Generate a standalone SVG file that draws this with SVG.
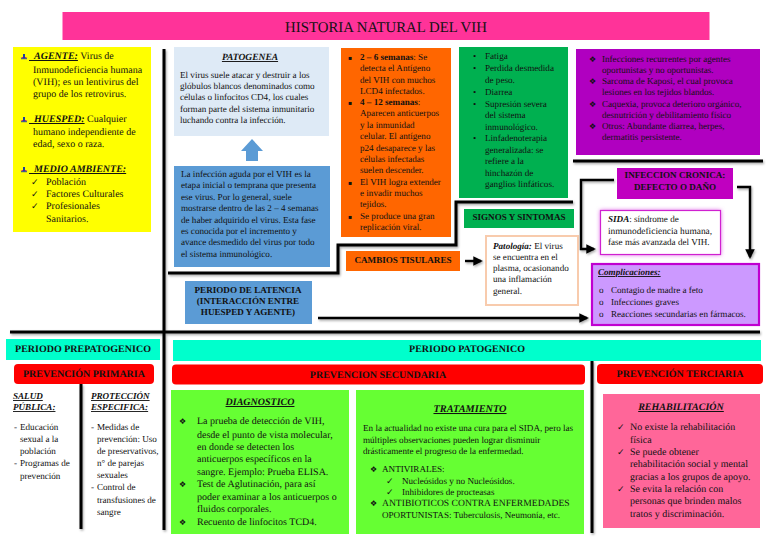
<svg xmlns="http://www.w3.org/2000/svg" xmlns:xlink="http://www.w3.org/1999/xlink" width="768" height="543" viewBox="0 0 768 543">
<style>
text{font-family:"Liberation Serif","Times New Roman",serif;font-size:10px;fill:#111;text-rendering:geometricPrecision}
.s text{font-size:9.1px}
.h{font-weight:bold;text-anchor:middle}
.s text.h,.h9{font-size:9.1px}
text.h10{font-size:10px}
.u{font-weight:bold;font-style:italic;text-decoration:underline}
.ic,.s text.ic{font-family:"DejaVu Sans",sans-serif;font-size:8px}
text.ck,.s text.ck{font-family:"DejaVu Sans",sans-serif;font-size:9px}
.s text.sq{font-family:"DejaVu Sans",sans-serif;font-size:6px}
.ln{fill:none;stroke:#000;stroke-width:3}
.ar{fill:none;stroke:#000;stroke-width:2.4}
.r{fill:#f00}
.t{fill:#0fc}
</style>
<defs>
<marker id="ah" viewBox="0 0 10 10" refX="8" refY="5" markerWidth="4" markerHeight="4" orient="auto"><path d="M0 0L10 5L0 10Z" fill="#000"/></marker>
<filter id="sh" x="-5%" y="-5%" width="110%" height="110%"><feDropShadow dx="1" dy="1.5" stdDeviation="1" flood-color="#000" flood-opacity=".35"/></filter>
<filter id="gl" x="-10%" y="-15%" width="120%" height="130%"><feGaussianBlur stdDeviation="2"/></filter>
<g id="bl"><path d="M-3.5 0H3.5L0 1.8Z" fill="#c02070"/><path d="M-1 -3H1V1H-1Z" fill="#2040a0"/><path d="M-3 1.2H3V2.2H-3Z" fill="#2040a0"/></g>
</defs>
<g id="title"><rect x="62.5" y="12" width="647" height="28" fill="#ff3399"/><text x="386" y="32" text-anchor="middle" style="font-size:14.800px">HISTORIA NATURAL DEL VIH</text></g>

<g id="triada"><rect x="13" y="47" width="138" height="185" fill="#ff0"/>
<use xlink:href="#bl" x="24" y="57"/><use xlink:href="#bl" x="24" y="120"/><use xlink:href="#bl" x="24" y="170"/>
<text x="29" y="59"><tspan class="u">&#160;&#160;AGENTE:</tspan> Virus de</text>
<text x="33" y="73">Inmunodeficiencia humana</text><text x="33" y="85">(VIH); es un lentivirus del</text><text x="33" y="97">grupo de los retrovirus.</text>
<text x="29" y="122"><tspan class="u">&#160;&#160;HUESPED:</tspan> Cualquier</text>
<text x="33" y="135">humano independiente de</text><text x="33" y="147">edad, sexo o raza.</text>
<text x="29" y="172" class="u">&#160;&#160;MEDIO AMBIENTE:</text>
<text x="31" y="185" class="ck">✓</text><text x="46" y="185">Población</text>
<text x="31" y="197" class="ck">✓</text><text x="46" y="197">Factores Culturales</text>
<text x="31" y="209" class="ck">✓</text><text x="46" y="209">Profesionales</text><text x="46" y="222">Sanitarios.</text></g>

<g id="patogenea" class="s"><rect x="174" y="47" width="155" height="89" fill="#deeaf6"/>
<text x="250" y="60" text-anchor="middle" class="u" style="font-size:9.500px">PATOGENEA</text>
<text x="180" y="78">El virus suele atacar y destruir a los</text><text x="180" y="89">glóbulos blancos denominados como</text><text x="180" y="100">células o linfocitos CD4, los cuales</text><text x="180" y="112">forman parte del sistema inmunitario</text><text x="180" y="123">luchando contra la infección.</text></g>
<g id="flecha-arriba"><path d="M252 139L263 151H258V161H246V151H241Z" fill="#5b9bd5"/></g>
<g id="infeccion-aguda" class="s"><rect x="174" y="166" width="156" height="101" fill="#5b9bd5"/>
<text x="181" y="177">La infección aguda por el VIH es la</text><text x="181" y="188">etapa inicial o temprana que presenta</text><text x="181" y="200">ese virus. Por lo general, suele</text><text x="181" y="211">mostrarse dentro de las 2 – 4 semanas</text><text x="181" y="223">de haber adquirido el virus. Esta fase</text><text x="181" y="234">es conocida por el incremento y</text><text x="181" y="245">avance desmedido del virus por todo</text><text x="181" y="257">el sistema inmunológico.</text></g>

<g id="semanas" class="s"><rect x="341" y="48" width="110" height="189" fill="#f60"/>
<text x="348" y="60" class="sq">▪</text><text x="348" y="105" class="sq">▪</text><text x="348" y="185" class="sq">▪</text><text x="348" y="219" class="sq">▪</text>
<text x="360" y="60"><tspan font-weight="bold">2 – 6 semanas</tspan>: Se</text><text x="360" y="71">detecta el Antígeno</text><text x="360" y="83">del VIH con muchos</text><text x="360" y="94">LCD4 infectados.</text>
<text x="360" y="105"><tspan font-weight="bold">4 – 12 semanas</tspan>:</text><text x="360" y="116">Aparecen anticuerpos</text><text x="360" y="128">y la inmunidad</text><text x="360" y="139">celular. El antígeno</text><text x="360" y="151">p24 desaparece y las</text><text x="360" y="162">células infectadas</text><text x="360" y="173">suelen descender.</text>
<text x="360" y="185">El VIH logra extender</text><text x="360" y="196">e invadir muchos</text><text x="360" y="207">tejidos.</text><text x="360" y="219">Se produce una gran</text><text x="360" y="230">replicación viral.</text></g>

<g id="sintomas" class="s"><rect x="459" y="47" width="109" height="151" fill="#00b050"/>
<text x="473" y="59">•</text><text x="473" y="71">•</text><text x="473" y="95">•</text><text x="473" y="107">•</text><text x="473" y="141">•</text>
<text x="485" y="59">Fatiga</text><text x="485" y="71">Perdida desmedida</text><text x="485" y="83">de peso.</text><text x="485" y="95">Diarrea</text><text x="485" y="107">Supresión severa</text><text x="485" y="118">del sistema</text><text x="485" y="130">inmunológico.</text><text x="485" y="141">Linfadenoterapia</text><text x="485" y="153">generalizada: se</text><text x="485" y="164">refiere a la</text><text x="485" y="176">hinchazón de</text><text x="485" y="187">ganglios linfáticos.</text></g>

<g id="infecciones" class="s"><rect x="576" y="49" width="184" height="106" fill="#b000c0"/>
<text x="589" y="62" class="ic">❖</text><text x="589" y="84" class="ic">❖</text><text x="589" y="107" class="ic">❖</text><text x="589" y="129" class="ic">❖</text>
<text x="602" y="62">Infecciones recurrentes por agentes</text><text x="602" y="73">oportunistas y no oportunistas.</text><text x="602" y="84">Sarcoma de Kaposi, el cual provoca</text><text x="602" y="95">lesiones en los tejidos blandos.</text><text x="602" y="107">Caquexia, provoca deterioro orgánico,</text><text x="602" y="118">desnutrición y debilitamiento físico</text><text x="602" y="129">Otros: Abundante diarrea, herpes,</text><text x="602" y="140">dermatitis persistente.</text></g>

<g id="cronica" class="s"><rect x="617" y="168" width="116" height="31" fill="#c000c0"/><text x="675" y="178" class="h">INFECCION CRONICA:</text><text x="675" y="190" class="h">DEFECTO O DAÑO</text></g>
<g id="signos" class="s"><rect x="464" y="209" width="110" height="19" fill="#00b050"/><text x="519" y="220" class="h">SIGNOS Y SINTOMAS</text></g>
<g id="sida" class="s"><rect x="600" y="210" width="121" height="45" fill="#e070e8" filter="url(#gl)"/><rect x="600.5" y="210.5" width="120" height="44" fill="#fff" stroke="#d020d0" stroke-width="1.2"/>
<text x="608" y="222"><tspan font-style="italic" font-weight="bold">SIDA</tspan>: síndrome de</text><text x="608" y="234" style="font-size:9.400px">inmunodeficiencia humana,</text><text x="608" y="245">fase más avanzada del VIH.</text></g>
<g id="patologia" class="s"><rect x="486" y="236" width="92" height="69" fill="#fff" stroke="#f8cbad" stroke-width="2"/>
<text x="493" y="249"><tspan font-style="italic" font-weight="bold">Patología:</tspan> El virus</text><text x="493" y="260">se encuentra en el</text><text x="493" y="271">plasma, ocasionando</text><text x="493" y="282">una inflamación</text><text x="493" y="294">general.</text></g>
<g id="cambios" class="s"><rect x="346" y="251" width="114" height="20" fill="#f60"/><text x="403" y="263" class="h">CAMBIOS TISULARES</text></g>
<g id="latencia" class="s"><rect x="185" y="281" width="127" height="43" fill="#5b9bd5"/><text x="248" y="293" class="h">PERIODO DE LATENCIA</text><text x="248" y="304" class="h">(INTERACCIÓN ENTRE</text><text x="248" y="315" class="h">HUESPED Y AGENTE)</text></g>
<g id="complicaciones" class="s"><rect x="592" y="264" width="167" height="61" fill="#c9f" stroke="#c000d0" stroke-width="2.2"/>
<text x="598" y="275" class="u">Complicaciones:</text>
<text x="599" y="293">o</text><text x="599" y="305">o</text><text x="599" y="317">o</text>
<text x="611" y="293">Contagio de madre a feto</text><text x="611" y="305">Infecciones graves</text><text x="611" y="317">Reacciones secundarias en fármacos.</text></g>

<g id="periodo-prepatogenico"><rect x="6" y="339" width="154" height="21" class="t"/><text x="83" y="352" class="h h10">PERIODO PREPATOGENICO</text></g>
<g id="periodo-patogenico"><rect x="173" y="340" width="588" height="21" class="t"/><text x="467" y="352" class="h h10">PERIODO PATOGENICO</text></g>
<g id="prev-primaria"><rect x="14" y="364" width="140" height="20" rx="4" class="r"/><text x="84" y="377" class="h h10">PREVENCIÓN PRIMARIA</text></g>
<g id="prev-secundaria"><rect x="172" y="364.500" width="413" height="20" rx="4" class="r"/><text x="378" y="378" class="h h10">PREVENCION SECUNDARIA</text></g>
<g id="prev-terciaria"><rect x="597" y="364" width="166" height="20" rx="4" class="r"/><text x="680" y="377" class="h h10">PREVENCIÓN TERCIARIA</text></g>

<g id="salud-publica" class="s"><text x="13" y="399" class="u">SALUD</text><text x="13" y="410" class="u">PÚBLICA:</text>
<text x="14" y="430">-</text><text x="14" y="466">-</text>
<text x="20" y="430">Educación</text><text x="20" y="442">sexual a la</text><text x="20" y="454">población</text><text x="20" y="466">Programas de</text><text x="20" y="479">prevención</text></g>
<g id="proteccion" class="s"><text x="91" y="399" class="u">PROTECCIÓN</text><text x="91" y="410" class="u">ESPECIFICA:</text>
<text x="91" y="430">-</text><text x="91" y="490">-</text>
<text x="97" y="430">Medidas de</text><text x="97" y="442">prevención: Uso</text><text x="97" y="454">de preservativos,</text><text x="97" y="466">n° de parejas</text><text x="97" y="478">sexuales</text><text x="97" y="490">Control de</text><text x="97" y="503">transfusiones de</text><text x="97" y="515">sangre</text></g>

<g id="diagnostico"><rect x="171" y="390" width="178" height="144" fill="#6f3"/>
<text x="260" y="405" text-anchor="middle" class="u">DIAGNOSTICO</text>
<text x="179" y="424" class="ic">❖</text><text x="179" y="487" class="ic">❖</text><text x="179" y="525" class="ic">❖</text>
<text x="197" y="424">La prueba de detección de VIH,</text><text x="197" y="438">desde el punto de vista molecular,</text><text x="197" y="450">en donde se detecten los</text><text x="197" y="462">anticuerpos específicos en la</text><text x="197" y="475">sangre. Ejemplo: Prueba ELISA.</text><text x="197" y="487">Test de Aglutinación, para así</text><text x="197" y="500">poder examinar a los anticuerpos o</text><text x="197" y="512">fluidos corporales.</text><text x="197" y="525">Recuento de linfocitos TCD4.</text></g>

<g id="tratamiento" class="s"><rect x="356" y="390" width="228" height="144" fill="#6f3"/>
<text x="470" y="412" text-anchor="middle" class="u" style="font-size:10.300px">TRATAMIENTO</text>
<text x="363" y="431">En la actualidad no existe una cura para el SIDA, pero las</text><text x="363" y="443">múltiples observaciones pueden lograr disminuir</text><text x="363" y="454">drásticamente el progreso de la enfermedad.</text>
<text x="370" y="472" class="ic">❖</text><text x="370" y="506" class="ic">❖</text><text x="386" y="484" class="ck">✓</text><text x="386" y="495" class="ck">✓</text>
<text x="382" y="472">ANTIVIRALES:</text><text x="402" y="484">Nucleósidos y no Nucleósidos.</text><text x="402" y="495">Inhibidores de procteasas</text><text x="382" y="506" style="font-size:9.600px">ANTIBIOTICOS CONTRA ENFERMEDADES</text><text x="382" y="518">OPORTUNISTAS: Tuberculosis, Neumonía, etc.</text></g>

<g id="rehabilitacion"><rect x="603" y="394" width="157" height="134" fill="#f69"/>
<text x="681" y="410" text-anchor="middle" class="u">REHABILITACIÓN</text>
<text x="617" y="430" class="ck">✓</text><text x="617" y="455" class="ck">✓</text><text x="617" y="492" class="ck">✓</text>
<text x="630" y="430">No existe la rehabilitación</text><text x="630" y="443">física</text><text x="630" y="455">Se puede obtener</text><text x="630" y="467">rehabilitación social y mental</text><text x="630" y="480">gracias a los grupos de apoyo.</text><text x="630" y="492">Se evita la relación con</text><text x="630" y="504">personas que brinden malos</text><text x="630" y="517">tratos y discriminación.</text></g>

<g id="connectors" filter="url(#sh)">
<path class="ln" d="M164 49V530"/>
<path class="ln" d="M10 332H760"/>
<path class="ln" d="M81 384V529"/>
<path class="ln" d="M592 361V533"/>
<path class="ln" d="M168 273H338V245H456V202H573"/>
<path class="ln" d="M573 161H763"/>
<path class="ar" d="M614 180H581V249H594" marker-end="url(#ah)"/>
<path class="ar" d="M737 187H750V257" marker-end="url(#ah)"/>
<path class="ar" d="M465 261H481" marker-end="url(#ah)"/>
<path class="ar" d="M318 318H587" marker-end="url(#ah)"/>
</g>
</svg>
